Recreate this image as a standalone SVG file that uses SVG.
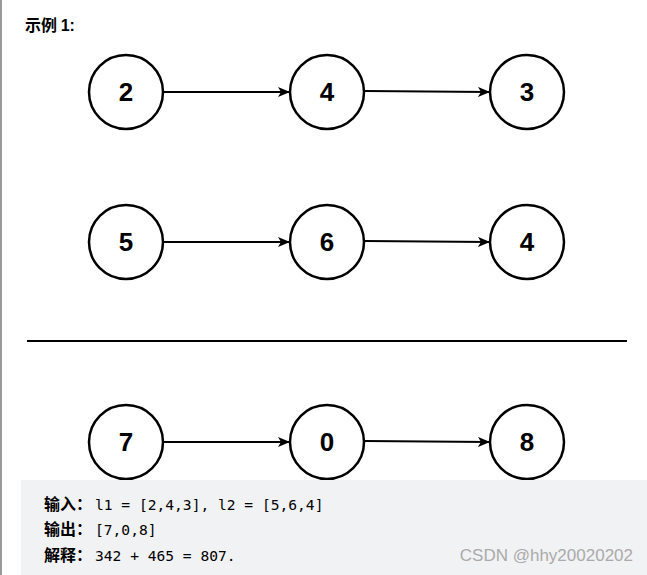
<svg xmlns="http://www.w3.org/2000/svg" width="647" height="575" viewBox="0 0 647 575">
<style>
.n circle{fill:#fff;stroke:#000;stroke-width:2.5}
.n text{font-family:"Liberation Sans",Arial,sans-serif;font-weight:bold;font-size:26px;text-anchor:middle;fill:#000}
.c line{stroke:#000;stroke-width:2}
.m{font-family:"DejaVu Sans Mono","Liberation Mono",monospace;font-size:14.6px;fill:#000}
.k{font-family:"Noto Sans CJK SC",sans-serif;font-size:16px;font-weight:bold;fill:#000}
</style>
<defs><marker id="a" markerWidth="12" markerHeight="10" refX="11" refY="5" orient="auto" markerUnits="userSpaceOnUse"><path d="M0,0 L12,5 L0,10 L3,5 Z" fill="#000"/></marker></defs>
<rect width="647" height="575" fill="#fff"/>
<line x1="1" y1="0" x2="1" y2="575" stroke="#999" stroke-width="2"/>
<text x="25" y="31" class="k">示例 <tspan font-family="Liberation Sans,sans-serif">1:</tspan></text>
<g class="c">
<line x1="164" y1="92" x2="289" y2="92" marker-end="url(#a)"/>
<line x1="365" y1="91" x2="489" y2="92" marker-end="url(#a)"/>
<line x1="164" y1="242" x2="289" y2="242" marker-end="url(#a)"/>
<line x1="365" y1="241" x2="489" y2="242" marker-end="url(#a)"/>
<line x1="164" y1="442" x2="289" y2="442" marker-end="url(#a)"/>
<line x1="365" y1="441" x2="489" y2="442" marker-end="url(#a)"/>
</g>
<line x1="27" y1="341" x2="627" y2="341" stroke="#000" stroke-width="2"/>
<g id="n2" class="n"><circle cx="126" cy="92" r="37"/><text x="126" y="101">2</text></g>
<g id="n4" class="n"><circle cx="327" cy="92" r="37"/><text x="327" y="101">4</text></g>
<g id="n3" class="n"><circle cx="527" cy="92" r="37"/><text x="527" y="101">3</text></g>
<g id="n5" class="n"><circle cx="126" cy="242" r="37"/><text x="126" y="251">5</text></g>
<g id="n6" class="n"><circle cx="327" cy="242" r="37"/><text x="327" y="251">6</text></g>
<g id="n4b" class="n"><circle cx="527" cy="242" r="37"/><text x="527" y="251">4</text></g>
<g id="n7" class="n"><circle cx="126" cy="442" r="37"/><text x="126" y="451">7</text></g>
<g id="n0" class="n"><circle cx="327" cy="442" r="37"/><text x="327" y="451">0</text></g>
<g id="n8" class="n"><circle cx="527" cy="442" r="37"/><text x="527" y="451">8</text></g>
<rect x="21" y="480" width="626" height="95" fill="#f1f2f4"/>
<text x="44" y="510" class="k">输入：</text><text x="95" y="510" class="m">l1 = [2,4,3], l2 = [5,6,4]</text>
<text x="44" y="535" class="k">输出：</text><text x="95" y="535" class="m">[7,0,8]</text>
<text x="44" y="561" class="k">解释：</text><text x="95" y="561" class="m">342 + 465 = 807.</text>
<text x="633" y="561" text-anchor="end" font-family="Liberation Sans,sans-serif" font-size="17" fill="#aaa">CSDN @hhy20020202</text>
</svg>
